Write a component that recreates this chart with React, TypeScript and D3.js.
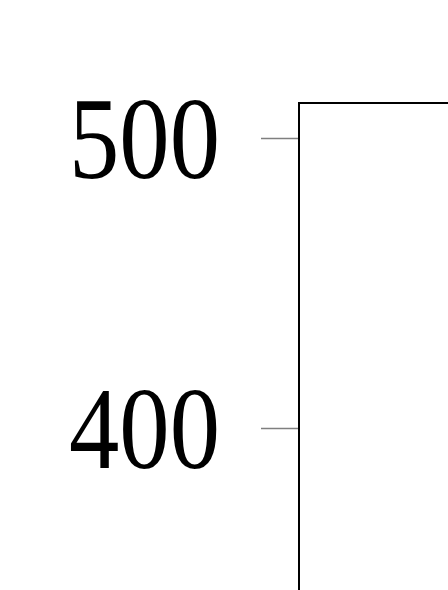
import * as d3 from 'd3';

// y-axis extent visible in the crop, and its tick labels
const Y_DOMAIN = [344.1, 512.1];
const Y_TICKS = [400, 500];
const TICK_LABELS = ['400', '500'];

export default function App() {
  const w = 448;
  const h = 590;
  const margin = { top: 103, left: 299 };

  const y = d3.scaleLinear()
    .domain(Y_DOMAIN)
    .range([h, margin.top]);

  return (
    <svg
      width={w}
      height={h}
      style={{ position: 'absolute', left: 0, top: 0, background: '#fff' }}
    >
      {/* Ticks + labels */}
      {Y_TICKS.map((t, i) => (
        <g key={t}>
          <line
            x1={margin.left - 38} x2={margin.left}
            y1={Math.round(y(t)) + 0.5} y2={Math.round(y(t)) + 0.5}
            stroke="#7f7f7f" strokeWidth={1.5}
          />
          <text
            x={220} y={y(t) + 40}
            textAnchor="end"
            fontSize={117}
            fontFamily="'Liberation Serif', 'DejaVu Serif', serif"
            textLength={151}
            lengthAdjust="spacingAndGlyphs"
            fill="#000"
          >
            {TICK_LABELS[i]}
          </text>
        </g>
      ))}

      {/* Plot frame */}
      <rect
        x={margin.left} y={y(Y_DOMAIN[1])}
        width={w} height={h}
        fill="none" stroke="#000" strokeWidth={2}
      />
    </svg>
  );
}
